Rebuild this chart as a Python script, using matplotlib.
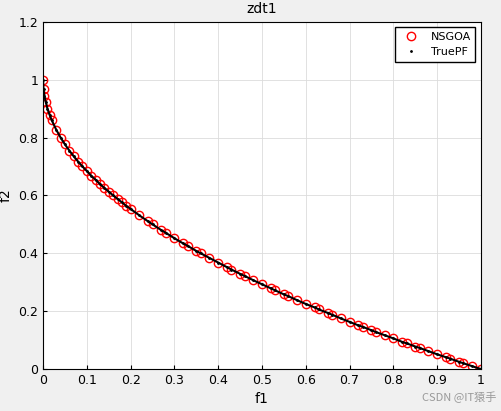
import matplotlib.pyplot as plt

# values (front of zdt1)
f1 = [0, 0.001, 0.003, 0.006, 0.01, 0.015, 0.02, 0.03, 0.04, 0.05, 0.06, 0.07, 0.08,
      0.09, 0.1, 0.11, 0.12, 0.13, 0.14, 0.15, 0.16, 0.17, 0.18, 0.19, 0.2, 0.22, 0.24,
      0.25, 0.27, 0.28, 0.3, 0.32, 0.33, 0.35, 0.36, 0.38, 0.4, 0.42, 0.43, 0.45, 0.46,
      0.48, 0.5, 0.52, 0.53, 0.55, 0.56, 0.58, 0.6, 0.62, 0.63, 0.65, 0.66, 0.68, 0.7,
      0.72, 0.73, 0.75, 0.76, 0.78, 0.8, 0.82, 0.83, 0.85, 0.86, 0.88, 0.9, 0.92, 0.93,
      0.95, 0.96, 0.98, 1.0]
f2 = [1.0, 0.968, 0.945, 0.923, 0.9, 0.878, 0.859, 0.827, 0.8, 0.776, 0.755, 0.735, 0.717,
      0.7, 0.684, 0.668, 0.654, 0.639, 0.626, 0.613, 0.6, 0.588, 0.576, 0.564, 0.553, 0.531, 0.51,
      0.5, 0.480, 0.471, 0.452, 0.434, 0.426, 0.408, 0.4, 0.384, 0.368, 0.352, 0.344, 0.329, 0.322,
      0.307, 0.293, 0.279, 0.272, 0.258, 0.252, 0.238, 0.225, 0.213, 0.206, 0.194, 0.188, 0.175, 0.163,
      0.151, 0.146, 0.134, 0.128, 0.117, 0.106, 0.094, 0.089, 0.078, 0.073, 0.062, 0.051, 0.041, 0.036,
      0.025, 0.020, 0.010, 0.0]

fig = plt.figure(figsize=(5.01, 4.11), dpi=100, facecolor='#f0f0f0')
ax = fig.add_axes([0.086, 0.102, 0.874, 0.845])

ax.plot(f1, f2, 'o', mfc='none', mec='red', ms=6, mew=1, label='NSGOA')
ax.plot(f1, f2, '-', color='black', lw=1.5)
ax.plot(f1, f2, '.', color='black', ms=2, label='TruePF')

ax.set_xlim(0, 1)
ax.set_ylim(0, 1.2)
ax.set_xticks([i / 10 for i in range(11)])
ax.set_xticklabels(['0', '0.1', '0.2', '0.3', '0.4', '0.5', '0.6', '0.7', '0.8', '0.9', '1'])
ax.set_yticks([i / 5 for i in range(7)])
ax.set_yticklabels(['0', '0.2', '0.4', '0.6', '0.8', '1', '1.2'])
ax.grid(True, color='#dcdcdc', lw=0.6)
ax.tick_params(labelsize=9, direction='in', length=3)
ax.set_xlabel('f1', fontsize=10)
ax.set_ylabel('f2', fontsize=10)
ax.set_title('zdt1', fontsize=10)
ax.legend(loc='upper right', fontsize=8, fancybox=False, edgecolor='black', framealpha=1)

fig.text(0.99, 0.02, 'CSDN @IT猿手', ha='right', va='bottom', fontsize=8, color='#999999',
         family=['Noto Sans CJK SC', 'DejaVu Sans'])

fig.savefig('out.png', dpi=100, facecolor=fig.get_facecolor())
